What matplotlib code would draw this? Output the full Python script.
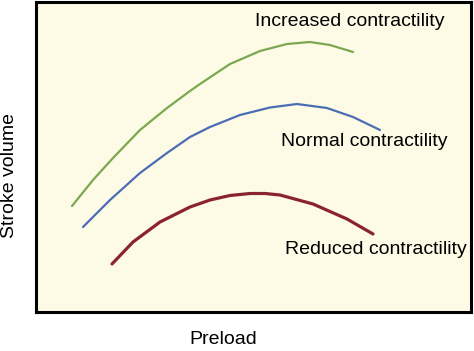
import matplotlib
matplotlib.use("Agg")
import matplotlib.pyplot as plt

plt.rcParams['font.family'] = ['Liberation Sans', 'DejaVu Sans']

# curves (preload, stroke volume), arbitrary units
inc_x = [72, 93, 113, 140, 167, 190, 200, 230, 260, 287, 310, 330, 353]
inc_y = [145, 171, 193, 221, 243, 260, 267, 287, 300, 307, 309, 306, 299]
norm_x = [83, 110, 140, 167, 190, 210, 240, 270, 297, 327, 353, 380]
norm_y = [124, 151, 178, 198, 214, 224, 236, 243.5, 247, 243, 234, 221]
red_x = [112, 133, 160, 190, 210, 230, 250, 265, 280, 313, 347, 373]
red_y = [87, 109, 129, 144, 151, 155.5, 157.5, 157.5, 156, 147, 132, 117]

labels = ["Increased contractility", "Normal contractility", "Reduced contractility"]
label_pos = [(350, 329), (364, 209), (376, 102)]

fig = plt.figure(figsize=(4.74, 3.51), dpi=100)
ax = fig.add_axes([36 / 474, 39 / 351, 435 / 474, 310 / 351])
ax.set_facecolor('#fdfbe6')
ax.set_xlim(36, 471)
ax.set_ylim(39, 349)

ax.plot(inc_x, inc_y, color='#7aa84e', lw=1.6, solid_capstyle='round', solid_joinstyle='round')
ax.plot(norm_x, norm_y, color='#4b6db4', lw=1.6, solid_capstyle='round', solid_joinstyle='round')
ax.plot(red_x, red_y, color='#8a2331', lw=2.3, solid_capstyle='round', solid_joinstyle='round')

for txt, (x, y) in zip(labels, label_pos):
    ax.text(x, y, txt, fontsize=14, ha='center', va='center')

ax.set_xticks([])
ax.set_yticks([])
for s in ax.spines.values():
    s.set_linewidth(2.2)

fig.text(223 / 474, 1 - 339 / 351, "Preload", fontsize=14, ha='center', va='center')
fig.text(10 / 474, 1 - 175 / 351, "Stroke volume", fontsize=14, ha='center', va='center',
         rotation=90)

fig.savefig("out.png", dpi=100)
